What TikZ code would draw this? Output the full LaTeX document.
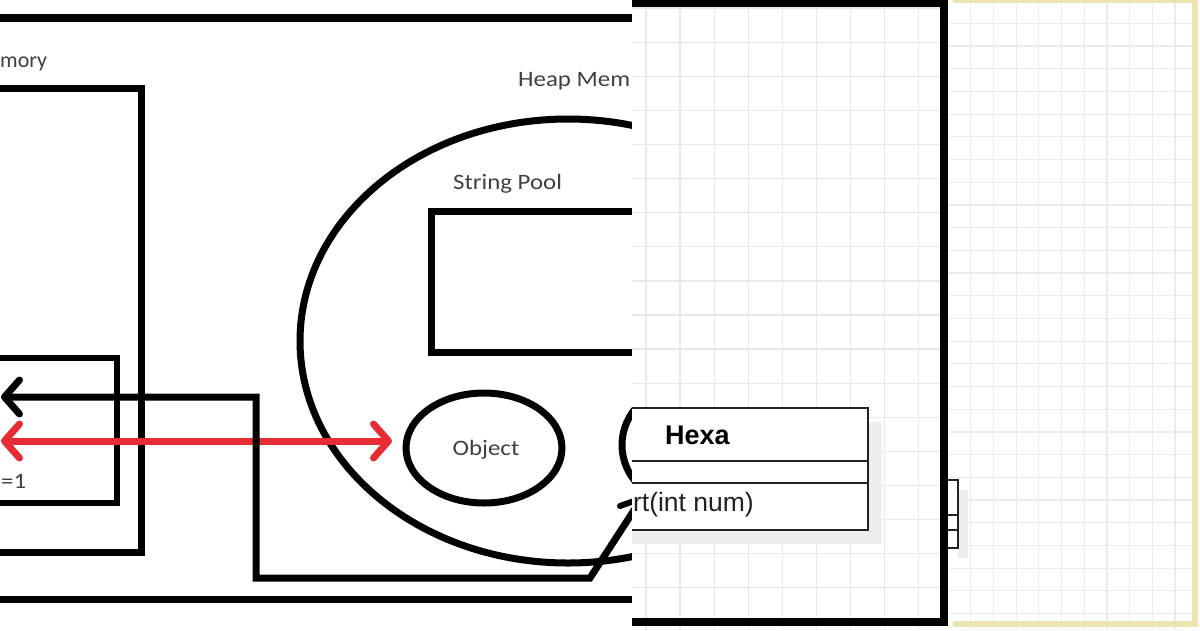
\documentclass[tikz,border=0pt]{standalone}
\usepackage{graphicx}
\usepackage{fontspec}
\setmainfont{Carlito}
\newfontfamily\umlfont{Liberation Sans}
\usetikzlibrary{arrows.meta,shapes.geometric}
\definecolor{redarr}{RGB}{232,44,54}
\definecolor{labelgray}{RGB}{64,64,64}
\definecolor{gridM}{RGB}{232,232,232}
\definecolor{gridR}{RGB}{235,235,235}
\definecolor{beige}{RGB}{239,228,176}
\definecolor{shadowgray}{RGB}{238,238,238}
\definecolor{umlline}{RGB}{34,34,34}
\newcommand{\wide}[1]{\scalebox{1.13}[1]{#1}}
\begin{document}
\begin{tikzpicture}[x=1pt,y=-1pt,
  blk/.style={line width=7pt, draw=black},
  lbl/.style={text=labelgray, inner sep=0pt, font=\fontsize{22}{26}\selectfont},
  gridlineM/.style={draw=gridM, line width=1.3pt},
  gridlineR/.style={draw=gridR, line width=1.2pt},
  umlbox/.style={draw=umlline, line width=2pt},
  barb/.tip={Straight Barb[length=15pt,width=34pt,round]}]
\useasboundingbox (0,0) rectangle (1200,630);
\fill[white] (0,0) rectangle (1200,630);
% ---------------- left panel ----------------
\begin{scope}
\clip (0,0) rectangle (632,630);
\draw[blk, line width=8pt] (-5,18) -- (640,18);
\draw[blk] (-5,599) -- (640,599);
\draw[blk] (-10,88) -- (141,88) -- (141,552) -- (-10,552);
\draw[blk, line width=6pt] (-10,358) -- (117,358) -- (117,503) -- (-10,503);
\node[lbl, anchor=base west] (mem) at (0,67) {mory};
\node[lbl, anchor=base west] (eq) at (1,488) {\wide{=1}};
\node[lbl, anchor=base west] (heap) at (518,86) {\wide{Heap Mem}};
\node[draw, ellipse, line width=7pt, minimum width=536pt, minimum height=444pt, inner sep=0pt] (heapell) at (568,341) {};
\node[lbl, anchor=base west] (sp) at (453,189) {\wide{String Pool}};
\draw[blk] (640,211) -- (431,211) -- (431,352) -- (640,352);
\node[draw, ellipse, line width=7pt, minimum width=156pt, minimum height=110pt, inner sep=0pt] (obj) at (484,448) {};
\node[lbl] (objtxt) at (486,450) {\wide{Object}};
\node[draw, ellipse, line width=7pt, minimum width=120pt, minimum height=116pt, inner sep=0pt] (obj2) at (682,445) {};
\coordinate (rs) at (1,441);
\coordinate (re) at (392,441);
\draw[draw=redarr, line width=7pt, {barb}-{barb}] (rs) -- (re);
\coordinate (ps) at (640,501);
\coordinate (pc) at (590,578);
\coordinate (pe) at (1,397);
\draw[blk, -{barb}] (ps) -- (pc) -- (256,578) -- (256,397) -- (pe);
\draw[line width=6pt, line cap=round] (620,506) -- (634,501);
\end{scope}
% ---------------- middle panel ----------------
\begin{scope}
\clip (632,0) rectangle (948,630);
\fill[white] (632,0) rectangle (948,630);
\foreach \i in {0,...,8} {\draw[gridlineM] ({646+34.1*\i},0) -- ({646+34.1*\i},630);}
\foreach \j in {0,...,17} {\draw[gridlineM] (632,{8.1+34.1*\j}) -- (948,{8.1+34.1*\j});}
\fill[shadowgray] (632,422) rectangle (882,544);
\filldraw[fill=white, umlbox] (620,408) rectangle (868,530);
\draw[umlbox] (620,461) -- (868,461);
\draw[umlbox] (620,483) -- (868,483);
\node[inner sep=0pt, anchor=base west, font=\umlfont\bfseries\fontsize{27}{30}\selectfont] (hexa) at (665,444) {Hexa};
\node[inner sep=0pt, anchor=base east, text=umlline, font=\umlfont\fontsize{26.5}{29}\selectfont] (meth) at (754,511) {rt(int num)};
\draw[line width=8pt] (632,3) -- (944,3) -- (944,622) -- (632,622);
\end{scope}
% ---------------- right panel ----------------
\begin{scope}
\clip (948,0) rectangle (1200,630);
\fill[white] (948,0) rectangle (1200,630);
\foreach \i in {0,...,9} {\draw[gridlineR] ({970.7+22.7*\i},0) -- ({970.7+22.7*\i},630);}
\foreach \j in {1,...,27} {\draw[gridlineR] (948,{0.6+22.7*\j}) -- (1195,{0.6+22.7*\j});}
\fill[shadowgray] (958,490) rectangle (968,558);
\filldraw[fill=white, umlbox] (940,480) rectangle (958,548);
\draw[umlbox] (940,515) -- (958,515);
\draw[umlbox] (940,530) -- (958,530);
\draw[draw=beige, line width=6pt] (953,0) -- (1195,0) -- (1195,624) -- (953,624);
\end{scope}
\end{tikzpicture}
\end{document}
